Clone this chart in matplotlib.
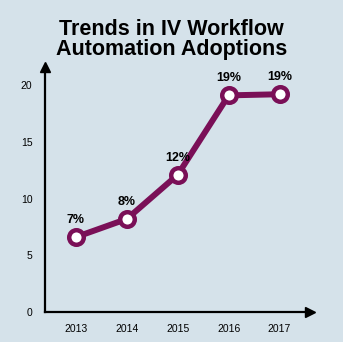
import matplotlib.pyplot as plt

years = [2013, 2014, 2015, 2016, 2017]
adoption = [6.6, 8.2, 12.1, 19.1, 19.2]
yticks = [0, 5, 10, 15, 20]

bg = '#d5e2ea'
purple = '#7a0f57'

plt.rcParams['font.family'] = ['Liberation Sans', 'DejaVu Sans']

fig = plt.figure(figsize=(3.43, 3.42), dpi=100, facecolor=bg)
ax = fig.add_axes([0.131, 0.088, 0.773, 0.716], facecolor=bg)

ax.plot(years, adoption, color=purple, lw=4.3, marker='o', ms=10.5,
        mfc='white', mec=purple, mew=3.2, solid_capstyle='round', zorder=3)
for x, v in zip(years, adoption):
    ax.annotate(f'{round(v)}%', (x, v), xytext=(0, 8), textcoords='offset points',
                ha='center', va='bottom', fontsize=9, fontweight='bold')

ax.set_xlim(2012.39, 2017.6)
ax.set_ylim(0, 21.6)
ax.set_xticks(years)
ax.set_yticks(yticks)
ax.tick_params(length=0, labelsize=7.5, pad=9)
ax.tick_params(axis='y', pad=9)
for s in ['top', 'right']:
    ax.spines[s].set_visible(False)
for s in ['left', 'bottom']:
    ax.spines[s].set_linewidth(1.6)

# arrow heads on the axes
ax.plot(0, 1, '^k', ms=7.5, transform=ax.transAxes, clip_on=False)
ax.plot(1, 0, '>k', ms=7.5, transform=ax.transAxes, clip_on=False)

fig.text(0.5, 0.885, 'Trends in IV Workflow\nAutomation Adoptions', ha='center',
         va='center', fontsize=15.5, fontweight='bold', linespacing=0.95)

fig.savefig('out.png', dpi=100, facecolor=bg)
